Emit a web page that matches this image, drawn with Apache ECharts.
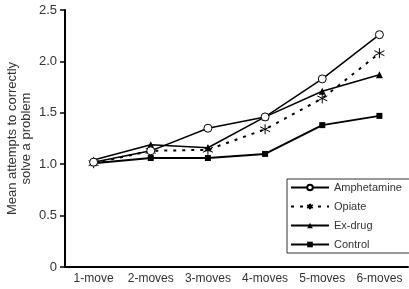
<!DOCTYPE html>
<html>
<head>
<meta charset="utf-8">
<script src="https://cdn.jsdelivr.net/npm/echarts@6/dist/echarts.min.js"></script>
<style>
  html, body { margin: 0; padding: 0; background: #fff; }
  #chart { width: 409px; height: 289px; }
</style>
</head>
<body>
<div id="chart"></div>
<script>
const moves = ['1-move', '2-moves', '3-moves', '4-moves', '5-moves', '6-moves']
const amphetamine = [1.02, 1.13, 1.35, 1.46, 1.83, 2.26]
const opiate = [1.01, 1.13, 1.14, 1.34, 1.64, 2.08]
const exDrug = [1.04, 1.19, 1.16, 1.46, 1.71, 1.87]
const control = [1.01, 1.06, 1.06, 1.10, 1.38, 1.47]

// asterisk marker used for opiate
const star = 'path://M0,-1L0,1M-0.87,-0.5L0.87,0.5M-0.87,0.5L0.87,-0.5'
const font = 'Liberation Sans, Arial, sans-serif'

const chart = echarts.init(document.getElementById('chart'))

const option = {
  animation: false,
  textStyle: { fontFamily: font },
  grid: { left: 65, right: 1, top: 10, bottom: 22, outerBoundsMode: 'none' },
  legend: {
    orient: 'vertical',
    left: 287,
    top: 179,
    width: 120,
    padding: [3, 8, 3, 3],
    borderColor: '#333',
    borderWidth: 1,
    backgroundColor: '#fff',
    itemWidth: 38,
    itemHeight: 7,
    itemGap: 8,
    textStyle: { fontSize: 11, color: '#333', fontFamily: font },
    data: ['Amphetamine', 'Opiate', 'Ex-drug', 'Control']
  },
  xAxis: {
    type: 'category',
    data: moves,
    boundaryGap: true,
    axisLine: { lineStyle: { color: '#000', width: 2 } },
    axisTick: { lineStyle: { color: '#000', width: 1.5 }, length: 4 },
    axisLabel: { color: '#333', fontSize: 12, margin: 6, interval: 0, fontFamily: font }
  },
  yAxis: {
    type: 'value',
    min: 0,
    max: 2.5,
    interval: 0.5,
    name: 'Mean attempts to correctly\nsolve a problem',
    nameLocation: 'middle',
    nameRotate: 90,
    nameGap: 32,
    nameMoveOverlap: false,
    nameTextStyle: { fontSize: 13, color: '#333', lineHeight: 14, fontFamily: font },
    axisLine: { show: true, lineStyle: { color: '#000', width: 2 } },
    axisTick: { show: true, lineStyle: { color: '#000', width: 1.5 }, length: 5 },
    splitLine: { show: false },
    axisLabel: {
      color: '#333',
      fontSize: 13,
      margin: 8,
      fontFamily: font,
      formatter: v => v === 0 ? '0' : v.toFixed(1)
    }
  },
  series: [
    {
      name: 'Amphetamine',
      type: 'line',
      data: amphetamine,
      symbol: 'circle',
      symbolSize: 8,
      itemStyle: { color: '#fff', borderColor: '#000', borderWidth: 1 },
      lineStyle: { color: '#000', width: 1.5 },
      z: 4
    },
    {
      name: 'Opiate',
      type: 'line',
      data: opiate,
      symbol: star,
      symbolSize: 10,
      itemStyle: { color: 'none', borderColor: '#000', borderWidth: 1 },
      lineStyle: { color: '#000', width: 2, type: [3, 6] },
      z: 3
    },
    {
      name: 'Ex-drug',
      type: 'line',
      data: exDrug,
      symbol: 'triangle',
      symbolSize: 7,
      itemStyle: { color: '#000' },
      lineStyle: { color: '#000', width: 1.5 },
      z: 2
    },
    {
      name: 'Control',
      type: 'line',
      data: control,
      symbol: 'rect',
      symbolSize: 6,
      itemStyle: { color: '#000' },
      lineStyle: { color: '#000', width: 2 },
      z: 1
    }
  ]
}

chart.setOption(option)
</script>
</body>
</html>
